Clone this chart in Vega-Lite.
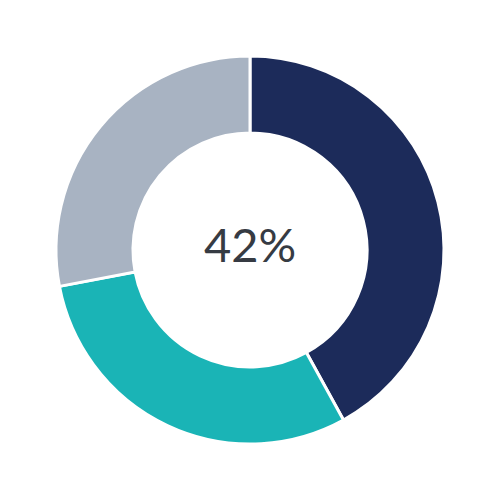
{
  "$schema": "https://vega.github.io/schema/vega-lite/v6.json",
  "width": 500,
  "height": 500,
  "autosize": {"type": "fit", "contains": "padding"},
  "padding": 0,
  "background": "white",
  "view": {"stroke": null},
  "data": {
    "values": [
      {"segment": "A", "share": 42, "order": 1},
      {"segment": "B", "share": 30, "order": 2},
      {"segment": "C", "share": 28, "order": 3}
    ]
  },
  "layer": [
    {
      "mark": {"type": "arc", "innerRadius": 117, "outerRadius": 194, "stroke": "white", "strokeWidth": 3},
      "encoding": {
        "theta": {"field": "share", "type": "quantitative", "stack": true},
        "order": {"field": "order", "type": "quantitative"},
        "color": {
          "field": "segment",
          "type": "nominal",
          "scale": {"domain": ["A", "B", "C"], "range": ["#1c2b5a", "#1ab4b6", "#a8b3c2"]},
          "legend": null
        }
      }
    },
    {
      "data": {"values": [{"label": "42%"}]},
      "mark": {"type": "text", "font": "Lato", "fontSize": 47, "fontWeight": "normal", "color": "#363b43", "align": "center", "baseline": "middle", "dy": -2},
      "encoding": {"text": {"field": "label"}}
    }
  ]
}
